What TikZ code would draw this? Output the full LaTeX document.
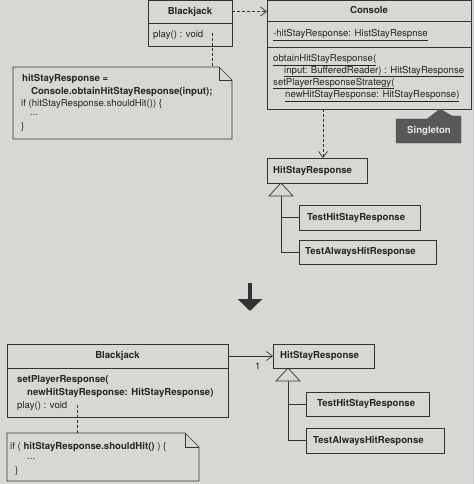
\documentclass[tikz,border=0pt]{standalone}
\usepackage{fontspec}
\setmainfont{TeX Gyre Heros}
\usetikzlibrary{arrows.meta}
\definecolor{bg}{HTML}{D7D7D4}
\definecolor{ln}{HTML}{333333}
\definecolor{tx}{HTML}{262626}
\definecolor{sg}{HTML}{585858}
\begin{document}
\begin{tikzpicture}[x=1pt,y=-1pt,
  comp/.style={draw=ln, line width=0.7pt, anchor=north west, inner sep=0pt, outer sep=0pt},
  lbl/.style={anchor=west, inner sep=0pt, text=tx, font=\fontsize{9.6}{11}\selectfont},
  blbl/.style={lbl, font=\fontsize{9.6}{11}\selectfont\bfseries},
  cname/.style={anchor=center, inner sep=0pt, text=tx, font=\fontsize{9.6}{11}\selectfont\bfseries},
  dsh/.style={draw=ln, line width=0.7pt, dash pattern=on 3pt off 2pt},
  con/.style={draw=ln, line width=0.7pt},
  opena/.style={-{Straight Barb[length=6pt,width=9pt]}},
  notes/.style={draw=ln, line width=0.7pt, fill=bg}
]
\useasboundingbox[fill=bg] (0,0) rectangle (474,484);

% ---------- top Blackjack ----------
\node[comp, minimum width=84pt, minimum height=23pt] (bjn) at (148,0) {};
\node[comp, minimum width=84pt, minimum height=23pt] (bjm) at (148,23) {};
\node[cname] (bjt) at (bjn.center) {Blackjack};
\node[lbl] (bjp) at (153,35) {play() : void};

% ---------- Console ----------
\node[comp, minimum width=204pt, minimum height=21pt] (cn) at (267,0) {};
\node[comp, minimum width=204pt, minimum height=26pt] (ca) at (267,21) {};
\node[comp, minimum width=204pt, minimum height=62pt] (cm) at (267,47) {};
\node[cname] (ct) at (cn.center) {Console};
\node[lbl] (cat) at (273,35) {\underline{-hitStayResponse: HistStayRespnse}};
\node[lbl] (cm1) at (273,60) {\underline{obtainHitStayResponse(}};
\node[lbl] (cm2) at (284,71.5) {\underline{input: BufferedReader) : HitStayResponse}};
\node[lbl] (cm3) at (273,83.5) {\underline{setPlayerResponseStrategy(}};
\node[lbl] (cm4) at (285,96) {\underline{newHitStayResponse: HitStayResponse)}};

\draw[dsh, opena] (bjn.east) -- (bjn.east -| cn.west);

% Singleton
\draw[fill=sg, draw=sg] (396,119) -- (427,119) -- (440,109) -- (452,116) -- (461,116) -- (461,143) -- (396,143) -- cycle;
\node[cname, text=white!90!black] (sgt) at (429,131) {Singleton};

% ---------- top HitStayResponse hierarchy ----------
\node[comp, minimum width=100pt, minimum height=25pt] (h1) at (267,158) {};
\node[lbl] (h1t) at (273,170.5) {\bfseries HitStayResponse};
\coordinate (c1) at (323,109);
\draw[dsh, opena] (c1) -- (c1 |- h1.north);

\node[comp, minimum width=121pt, minimum height=25pt] (t1) at (299,205) {};
\node[lbl] (t1t) at (307,217.5) {\bfseries TestHitStayResponse};
\node[comp, minimum width=137pt, minimum height=24pt] (a1) at (299,240) {};
\node[lbl] (a1t) at (305,252) {\bfseries TestAlwaysHitResponse};
\coordinate (tb1) at (281,196);
\draw[con] (tb1) |- (t1.west);
\draw[con] (tb1) |- (a1.west);
\draw[notes] (281,183) -- (293,196) -- (269,196) -- cycle;

% ---------- note 1 ----------
\node[anchor=north west, inner sep=0pt, minimum width=219pt, minimum height=72pt] (n1) at (13,67) {};
\draw[notes] (13,67) -- (219,67) -- (232,80) -- (232,139) -- (13,139) -- cycle;
\draw[con] (219,67) -- (219,80) -- (232,80);
\coordinate (d1) at (212,33);
\draw[dsh] (d1) -- (d1 |- n1.north);
\node[blbl] (n1a) at (22,79) {hitStayResponse =};
\node[blbl] (n1b) at (31,91.5) {Console.obtainHitStayResponse(input);};
\node[lbl] (n1c) at (21,103.5) {if (hitStayResponse.shouldHit()) \{};
\node[lbl] (n1d) at (30,115) {...};
\node[lbl] (n1e) at (21,127.5) {\}};

% ---------- big arrow ----------
\coordinate (ar1) at (250,283);
\coordinate (ar2) at (250,311);
\draw[ln, line width=3.5pt, -{Triangle[length=12pt,width=20pt, angle'=90]}] (ar1) -- (ar2);

% ---------- bottom Blackjack ----------
\node[comp, minimum width=221pt, minimum height=24pt] (bbn) at (7,344) {};
\node[comp, minimum width=221pt, minimum height=49pt] (bbm) at (7,368) {};
\node[cname] (bbt) at (bbn.center) {Blackjack};
\node[blbl] (bb1) at (17,380) {setPlayerResponse(};
\node[blbl] (bb2) at (27,393) {newHitStayResponse: HitStayResponse)};
\node[lbl] (bb3) at (17,406) {play() : void};

% ---------- bottom hierarchy ----------
\node[comp, minimum width=101pt, minimum height=24pt] (h2) at (273,344) {};
\node[lbl] (h2t) at (280,356) {\bfseries HitStayResponse};
\draw[con, opena] (bbn.east) -- (h2.west);
\node[lbl] (one) at (255,366) {1};

\node[comp, minimum width=123pt, minimum height=24pt] (t2) at (306,392) {};
\node[lbl] (t2t) at (317,404) {\bfseries TestHitStayResponse};
\node[comp, minimum width=138pt, minimum height=25pt] (a2) at (306,428) {};
\node[lbl] (a2t) at (313,440.5) {\bfseries TestAlwaysHitResponse};
\coordinate (tb2) at (288,381);
\draw[con] (tb2) |- (t2.west);
\draw[con] (tb2) |- (a2.west);
\draw[notes] (288,368) -- (300,381) -- (276,381) -- cycle;

% ---------- note 2 ----------
\node[anchor=north west, inner sep=0pt, minimum width=192pt, minimum height=48pt] (n2) at (7,433) {};
\draw[notes] (7,433) -- (185,433) -- (199,447) -- (199,481) -- (7,481) -- cycle;
\draw[con] (185,433) -- (185,447) -- (199,447);
\coordinate (d2) at (77,405);
\draw[dsh] (d2) -- (d2 |- n2.north);
\node[lbl] (n2a) at (10,447) {if ( \textbf{hitStayResponse.shouldHit()} ) \{};
\node[lbl] (n2b) at (27,459) {...};
\node[lbl] (n2c) at (15,471) {\}};
\end{tikzpicture}
\end{document}
